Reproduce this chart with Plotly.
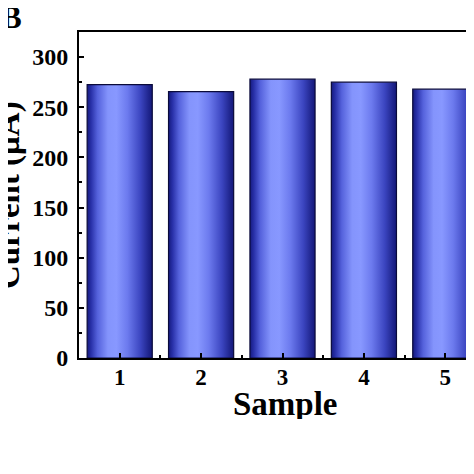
import plotly.graph_objects as go

# data
samples = [1, 2, 3, 4, 5]
current = [272.5, 265.5, 278, 275, 268]
tick_labels = ["1", "2", "3", "4", "5"]

bar_width = 0.8
# dark edges, light middle (cylinder look)
bar_shading = [
  [0.0, "#151a7e"],
  [0.06, "#2830a8"],
  [0.16, "#5562dc"],
  [0.32, "#8494fc"],
  [0.45, "#8898ff"],
  [0.62, "#6c7aee"],
  [0.82, "#3b45c0"],
  [0.94, "#20268f"],
  [1.0, "#14187a"],
]

# the page body adds an 8px offset, so the frame is laid out in page pixels
PAGE_OFF = 8
plot_left, plot_right, plot_top, plot_bottom = 79, 486, 32, 358
fig_w, fig_h = plot_right - PAGE_OFF, 474


def px_x(px):
  return (px - plot_left) / (plot_right - plot_left)


def px_y(py):
  return (plot_bottom - py) / (plot_bottom - plot_top)


fig = go.Figure()

for s, val in zip(samples, current):
  left = s - bar_width / 2
  right = s + bar_width / 2
  fig.add_trace(go.Scatter(
    x=[left, left, right, right, left],
    y=[0, val, val, 0, 0],
    mode="lines",
    fill="toself",
    fillgradient=dict(type="horizontal", colorscale=bar_shading),
    line=dict(color="#0a0a3a", width=1.2),
    hoverinfo="skip",
    showlegend=False
  ))

fig.update_xaxes(range=[0.5, 5.5],
                 tickvals=samples,
                 ticktext=tick_labels,
                 ticks="inside", ticklen=5, tickwidth=1.5, tickcolor="black",
                 minor=dict(tick0=0.5, dtick=1, ticks="inside", ticklen=3, tickwidth=1.5, tickcolor="black"),
                 showline=True, linecolor="black", linewidth=2, mirror=True,
                 showgrid=False, zeroline=False,
                 tickfont=dict(family="Liberation Serif", size=23, color="black", weight="bold"),
                 ticklabelstandoff=-3)

fig.update_yaxes(range=[0, 325],
                 tickvals=[0, 50, 100, 150, 200, 250, 300],
                 ticks="inside", ticklen=5, tickwidth=1.5, tickcolor="black",
                 minor=dict(dtick=25, ticks="inside", ticklen=3, tickwidth=1.5, tickcolor="black"),
                 showline=True, linecolor="black", linewidth=2,
                 showgrid=False, zeroline=False,
                 tickfont=dict(family="Liberation Serif", size=24, color="black", weight="bold"),
                 ticklabelstandoff=4)

title_font = dict(family="Liberation Serif", size=33, color="black", weight="bold")
fig.update_layout(
  width=fig_w, height=fig_h,
  margin=dict(l=plot_left - PAGE_OFF, r=0, t=plot_top - PAGE_OFF, b=fig_h - (plot_bottom - PAGE_OFF)),
  plot_bgcolor="white",
  paper_bgcolor="white",
  annotations=[
    dict(text="Sample", x=px_x(285), y=px_y(404), height=30,
         xref="paper", yref="paper", showarrow=False,
         xanchor="center", yanchor="middle", font=title_font),
    dict(text="Current (μA)", x=px_x(8), y=px_y(195),
         xref="paper", yref="paper", showarrow=False, textangle=-90,
         xanchor="center", yanchor="middle", font=title_font),
    dict(text="B", x=px_x(11), y=px_y(17),
         xref="paper", yref="paper", showarrow=False,
         xanchor="center", yanchor="middle",
         font=dict(family="Liberation Serif", size=31, color="black", weight="bold")),
  ]
)

fig.write_html("out.html")
